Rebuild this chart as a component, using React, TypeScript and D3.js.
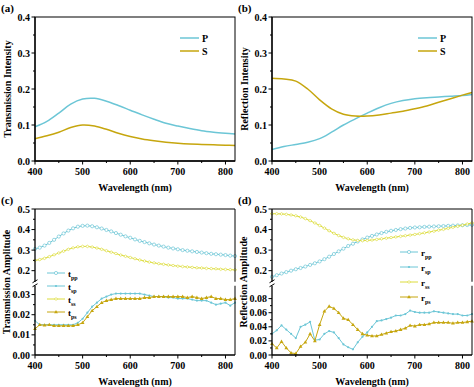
import React from 'react';
import * as d3 from 'd3';

// wavelengths (nm)
const WL_INT = [400, 425, 450, 475, 500, 525, 550, 575, 600, 625, 650, 675, 700, 725, 750, 775, 800, 820];
const WL_AMP = d3.range(400, 821, 10);

// (a) transmission intensity
const transP = [0.095, 0.11, 0.133, 0.158, 0.172, 0.174, 0.166, 0.154, 0.141, 0.128, 0.116, 0.105, 0.097, 0.09, 0.084, 0.08, 0.077, 0.075];
const transS = [0.062, 0.07, 0.08, 0.093, 0.1, 0.097, 0.088, 0.077, 0.068, 0.061, 0.056, 0.052, 0.049, 0.047, 0.046, 0.045, 0.044, 0.043];

// (b) reflection intensity
const reflP = [0.032, 0.04, 0.046, 0.052, 0.062, 0.08, 0.1, 0.117, 0.133, 0.148, 0.16, 0.168, 0.173, 0.176, 0.178, 0.18, 0.182, 0.185];
const reflS = [0.23, 0.228, 0.222, 0.2, 0.17, 0.145, 0.13, 0.125, 0.125, 0.128, 0.133, 0.138, 0.145, 0.153, 0.163, 0.173, 0.183, 0.19];

// (c) transmission amplitude
const tpp = [0.306, 0.312, 0.322, 0.335, 0.35, 0.366, 0.381, 0.395, 0.406, 0.414, 0.418, 0.419, 0.416, 0.411, 0.405, 0.398, 0.391, 0.383, 0.375, 0.367, 0.36, 0.352, 0.345, 0.339, 0.333, 0.327, 0.322, 0.317, 0.312, 0.308, 0.304, 0.3, 0.297, 0.294, 0.291, 0.288, 0.285, 0.282, 0.28, 0.278, 0.276, 0.273, 0.271];
const tsp = [0.017, 0.015, 0.015, 0.015, 0.015, 0.015, 0.015, 0.015, 0.015, 0.016, 0.018, 0.021, 0.024, 0.026, 0.028, 0.029, 0.03, 0.0305, 0.0305, 0.0305, 0.0305, 0.0305, 0.0305, 0.03, 0.0295, 0.029, 0.029, 0.029, 0.0285, 0.0285, 0.028, 0.028, 0.028, 0.0275, 0.027, 0.027, 0.027, 0.026, 0.025, 0.0255, 0.026, 0.0245, 0.026];
const tss = [0.25, 0.254, 0.26, 0.268, 0.277, 0.286, 0.295, 0.304, 0.311, 0.316, 0.318, 0.318, 0.315, 0.31, 0.304, 0.297, 0.29, 0.283, 0.276, 0.27, 0.264, 0.258, 0.252, 0.247, 0.242, 0.238, 0.234, 0.231, 0.228, 0.225, 0.222, 0.22, 0.218, 0.216, 0.214, 0.213, 0.211, 0.21, 0.209, 0.207, 0.206, 0.205, 0.204];
const tps = [0.013, 0.015, 0.0148, 0.015, 0.0145, 0.0145, 0.0145, 0.0145, 0.0145, 0.015, 0.016, 0.019, 0.022, 0.024, 0.026, 0.027, 0.0275, 0.028, 0.028, 0.028, 0.028, 0.028, 0.028, 0.0285, 0.0285, 0.029, 0.029, 0.029, 0.029, 0.029, 0.029, 0.029, 0.0285, 0.029, 0.0285, 0.028, 0.0285, 0.029, 0.028, 0.028, 0.0275, 0.0275, 0.028];

// (d) reflection amplitude
const rpp = [0.17, 0.178, 0.186, 0.193, 0.2, 0.207, 0.213, 0.22, 0.228, 0.236, 0.245, 0.256, 0.268, 0.281, 0.294, 0.307, 0.32, 0.331, 0.342, 0.352, 0.361, 0.369, 0.376, 0.383, 0.389, 0.394, 0.398, 0.402, 0.405, 0.408, 0.41, 0.411, 0.413, 0.414, 0.415, 0.416, 0.417, 0.418, 0.419, 0.42, 0.421, 0.422, 0.423];
const rsp = [0.03, 0.035, 0.042, 0.036, 0.03, 0.024, 0.04, 0.043, 0.047, 0.021, 0.022, 0.03, 0.034, 0.032, 0.024, 0.015, 0.011, 0.008, 0.018, 0.026, 0.032, 0.04, 0.048, 0.049, 0.051, 0.053, 0.056, 0.056, 0.058, 0.063, 0.061, 0.06, 0.06, 0.06, 0.062, 0.061, 0.06, 0.059, 0.058, 0.058, 0.056, 0.056, 0.058];
const rss = [0.477, 0.477, 0.476, 0.474, 0.471, 0.467, 0.461, 0.453, 0.443, 0.432, 0.42, 0.407, 0.394, 0.382, 0.371, 0.362, 0.355, 0.35, 0.347, 0.346, 0.347, 0.349, 0.352, 0.355, 0.358, 0.361, 0.364, 0.367, 0.37, 0.373, 0.376, 0.38, 0.384, 0.388, 0.392, 0.397, 0.401, 0.406, 0.411, 0.416, 0.421, 0.427, 0.432];
const rps = [0.016, 0.01, 0.019, 0.01, 0.003, 0.002, 0.012, 0.018, 0.03, 0.02, 0.043, 0.062, 0.069, 0.066, 0.06, 0.052, 0.05, 0.043, 0.036, 0.03, 0.028, 0.027, 0.027, 0.029, 0.031, 0.033, 0.034, 0.036, 0.038, 0.042, 0.041, 0.043, 0.043, 0.044, 0.046, 0.046, 0.046, 0.046, 0.045, 0.046, 0.046, 0.047, 0.048];

const xTicks = [400, 500, 600, 700, 800];
const intTicks = [0.0, 0.1, 0.2, 0.3, 0.4];
const upTicks = [0.2, 0.3, 0.4, 0.5];
const lowTicksC = [0.0, 0.01, 0.02, 0.03];
const lowTicksD = [0.0, 0.02, 0.04, 0.06, 0.08];

const CYAN = '#6cc6d6';
const GOLD = '#c6a60e';
const YEL = '#dcdc3c';
const FONT = '"Liberation Serif", "Times New Roman", serif';

type Series = {
  name: string;
  sub?: string;
  xs: number[];
  ys: number[];
  color: string;
  marker?: 'openCircle' | 'dot' | 'openDiamond' | 'triangle';
  seg?: 0 | 1; // 0 = lower, 1 = upper
};

type Seg = { domain: [number, number]; range: [number, number]; ticks: number[]; fmt: string };

function Marker({ type, x, y, color }: { type: string; x: number; y: number; color: string }) {
  if (type === 'openCircle') return <circle cx={x} cy={y} r={1.6} fill="#fff" stroke={color} strokeWidth={0.7} />;
  if (type === 'dot') return <circle cx={x} cy={y} r={1.1} fill={color} />;
  if (type === 'openDiamond') return <path d={`M${x - 1.8},${y}L${x},${y - 1.3}L${x + 1.8},${y}L${x},${y + 1.3}Z`} fill="#fff" stroke={color} strokeWidth={0.7} />;
  if (type === 'triangle') return <path d={`M${x},${y - 2}L${x + 1.9},${y + 1.3}L${x - 1.9},${y + 1.3}Z`} fill={color} />;
  return null;
}

function Panel(props: {
  label: string;
  left: number;
  right: number;
  top: number;
  bottom: number;
  segs: Seg[];
  series: Series[];
  yTitle: string;
  titleX: number;
  legend: { x: number; y: number; dy: number; len: number };
  curve?: boolean;
}) {
  const { left, right, top, bottom, segs, series, legend } = props;
  const x = d3.scaleLinear().domain([400, 820]).range([left, right]);
  const scales = segs.map((s) => d3.scaleLinear().domain(s.domain).range(s.range));
  const broken = segs.length > 1;
  const breakY = broken ? (segs[0].range[1] + segs[1].range[0]) / 2 : 0;

  const midY = (top + bottom) / 2;
  const minorX = [450, 550, 650, 750];

  return (
    <g fontFamily={FONT} fontWeight="bold">
      <text x={left - 34} y={top - 5} fontSize={11}>{props.label}</text>
      {/* series */}
      {series.map((s, i) => {
        const ys = scales[broken ? (s.seg ?? 1) : 0];
        const line = d3.line<number>()
          .x((_, j) => x(s.xs[j]))
          .y((v) => ys(v))
          .curve(props.curve ? d3.curveCatmullRom : d3.curveLinear);
        return (
          <g key={i}>
            <path d={line(s.ys) || ''} fill="none" stroke={s.color} strokeWidth={props.curve ? 1.5 : 1} />
            {s.marker && s.ys.map((v, j) => (
              <Marker key={j} type={s.marker!} x={x(s.xs[j])} y={ys(v)} color={s.color} />
            ))}
          </g>
        );
      })}
      {/* frame */}
      {broken ? (
        <g stroke="#000" fill="none">
          <path d={`M${left},${top}H${right}`} strokeWidth={1} />
          <path d={`M${left},${top}V${breakY - 2}M${left},${breakY + 2}V${bottom}`} strokeWidth={1.3} />
          <path d={`M${right},${top}V${breakY - 2}M${right},${breakY + 2}V${bottom}`} strokeWidth={1} />
          <path d={`M${left},${bottom}H${right}`} strokeWidth={1.3} />
          <path d={`M${left - 2.5},${breakY - 1}L${left + 2.5},${breakY - 4}M${left - 2.5},${breakY + 3}L${left + 2.5},${breakY}`} strokeWidth={1} />
        </g>
      ) : (
        <g stroke="#000" fill="none">
          <rect x={left} y={top} width={right - left} height={bottom - top} strokeWidth={1} />
          <path d={`M${left},${top}V${bottom}H${right}`} strokeWidth={1.3} />
        </g>
      )}
      {/* x ticks */}
      {xTicks.map((t) => (
        <g key={t}>
          <line x1={x(t)} x2={x(t)} y1={bottom} y2={bottom + 3.5} stroke="#000" strokeWidth={1} />
          <text x={x(t)} y={bottom + 14} fontSize={10} textAnchor="middle">{t}</text>
        </g>
      ))}
      {minorX.map((t) => (
        <line key={t} x1={x(t)} x2={x(t)} y1={bottom} y2={bottom + 2} stroke="#000" strokeWidth={1} />
      ))}
      <text x={(left + right) / 2} y={bottom + 30} fontSize={10} textAnchor="middle">Wavelength (nm)</text>
      {/* y ticks */}
      {segs.map((s, k) =>
        s.ticks.map((t) => (
          <g key={`${k}-${t}`}>
            <line x1={left - 3.5} x2={left} y1={scales[k](t)} y2={scales[k](t)} stroke="#000" strokeWidth={1} />
            <text x={left - 5} y={scales[k](t) + 3.5} fontSize={10} textAnchor="end">{d3.format(s.fmt)(t)}</text>
          </g>
        ))
      )}
      {segs.map((s, k) =>
        s.ticks.slice(0, -1).map((t, i) => {
          const m = (t + s.ticks[i + 1]) / 2;
          return <line key={`m${k}-${t}`} x1={left - 2} x2={left} y1={scales[k](m)} y2={scales[k](m)} stroke="#000" strokeWidth={1} />;
        })
      )}
      <text transform={`translate(${props.titleX},${midY}) rotate(-90)`} fontSize={10} textAnchor="middle">{props.yTitle}</text>
      {/* legend */}
      {series.map((s, i) => {
        const ly = legend.y + i * legend.dy;
        return (
          <g key={`l${i}`}>
            <line x1={legend.x} x2={legend.x + legend.len} y1={ly} y2={ly} stroke={s.color} strokeWidth={props.curve ? 1.5 : 1} />
            {s.marker && <Marker type={s.marker} x={legend.x + legend.len / 2} y={ly} color={s.color} />}
            <text x={legend.x + legend.len + 3} y={ly + 3.5} fontSize={s.sub ? 9 : 10}>
              {s.name}
              {s.sub && <tspan fontSize={6} dy={3}>{s.sub}</tspan>}
            </text>
          </g>
        );
      })}
    </g>
  );
}

export default function App() {
  const intSeg: Seg[] = [{ domain: [0, 0.4], range: [161, 17], ticks: intTicks, fmt: '.1f' }];
  const segC: Seg[] = [
    { domain: [0, 0.035], range: [355, 284.5], ticks: lowTicksC, fmt: '.2f' },
    { domain: [0.14, 0.5], range: [283, 209], ticks: upTicks, fmt: '.1f' },
  ];
  const segD: Seg[] = [
    { domain: [0, 0.1], range: [355, 284.5], ticks: lowTicksD, fmt: '.2f' },
    { domain: [0.14, 0.5], range: [283, 209], ticks: upTicks, fmt: '.1f' },
  ];
  return (
    <svg width={474} height={387} style={{ position: 'absolute', left: 0, top: 0, background: '#fff' }}>
      <Panel
        label="(a)" left={35} right={235} top={17} bottom={161} segs={intSeg} curve
        yTitle="Transmission Intensity" titleX={11}
        legend={{ x: 180, y: 38, dy: 13, len: 19 }}
        series={[
          { name: 'P', xs: WL_INT, ys: transP, color: CYAN },
          { name: 'S', xs: WL_INT, ys: transS, color: GOLD },
        ]}
      />
      <Panel
        label="(b)" left={272} right={472} top={17} bottom={161} segs={intSeg} curve
        yTitle="Reflection Intensity" titleX={248}
        legend={{ x: 418, y: 38, dy: 13, len: 19 }}
        series={[
          { name: 'P', xs: WL_INT, ys: reflP, color: CYAN },
          { name: 'S', xs: WL_INT, ys: reflS, color: GOLD },
        ]}
      />
      <Panel
        label="(c)" left={35} right={235} top={209} bottom={355} segs={segC}
        yTitle="Transmission Amplitude" titleX={10}
        legend={{ x: 47, y: 273, dy: 13, len: 18 }}
        series={[
          { name: 't', sub: 'pp', xs: WL_AMP, ys: tpp, color: CYAN, marker: 'openCircle', seg: 1 },
          { name: 't', sub: 'sp', xs: WL_AMP, ys: tsp, color: CYAN, marker: 'dot', seg: 0 },
          { name: 't', sub: 'ss', xs: WL_AMP, ys: tss, color: YEL, marker: 'openDiamond', seg: 1 },
          { name: 't', sub: 'ps', xs: WL_AMP, ys: tps, color: GOLD, marker: 'triangle', seg: 0 },
        ]}
      />
      <Panel
        label="(d)" left={272} right={472} top={209} bottom={355} segs={segD}
        yTitle="Reflection Amplitude" titleX={247}
        legend={{ x: 400, y: 252, dy: 15, len: 18 }}
        series={[
          { name: 'r', sub: 'pp', xs: WL_AMP, ys: rpp, color: CYAN, marker: 'openCircle', seg: 1 },
          { name: 'r', sub: 'sp', xs: WL_AMP, ys: rsp, color: CYAN, marker: 'dot', seg: 0 },
          { name: 'r', sub: 'ss', xs: WL_AMP, ys: rss, color: YEL, marker: 'openDiamond', seg: 1 },
          { name: 'r', sub: 'ps', xs: WL_AMP, ys: rps, color: GOLD, marker: 'triangle', seg: 0 },
        ]}
      />
    </svg>
  );
}
